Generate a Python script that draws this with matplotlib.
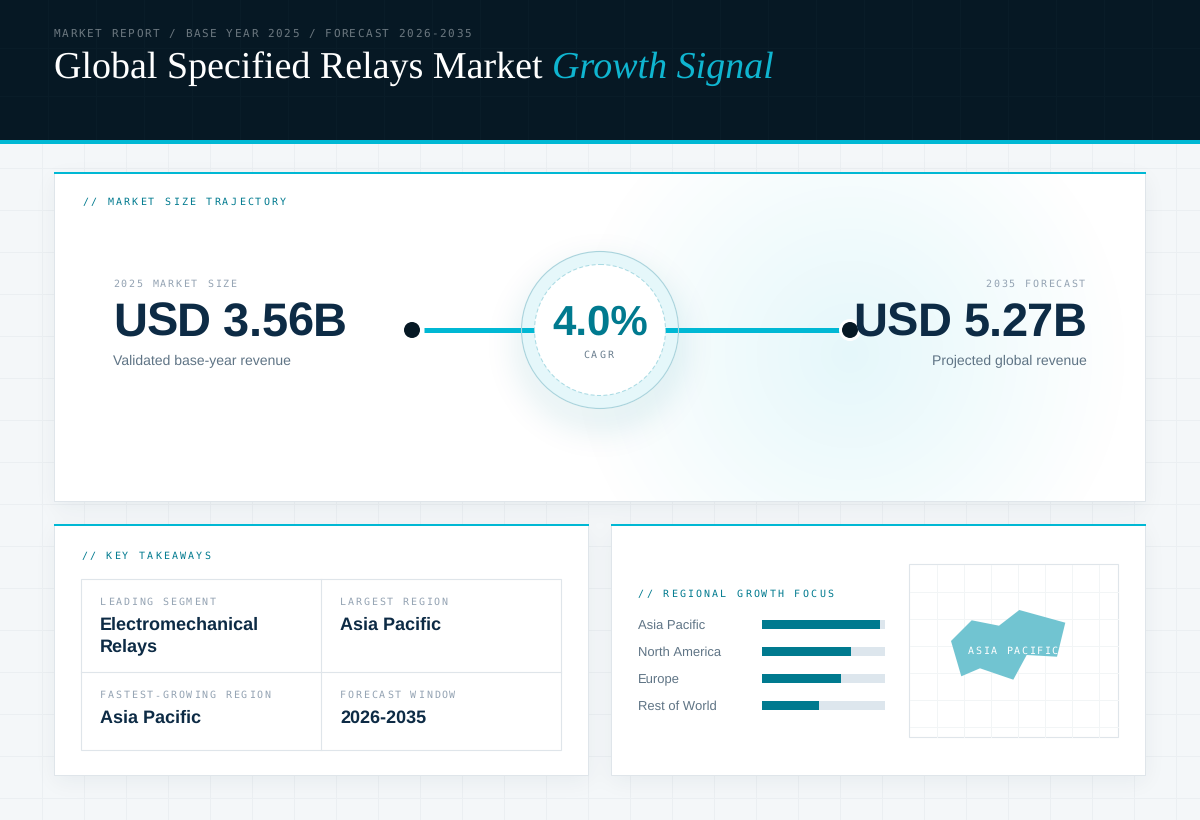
import numpy as np
import matplotlib
matplotlib.use("Agg")
import matplotlib.pyplot as plt
from matplotlib.patches import Rectangle, Circle, Polygon
from matplotlib.text import Text
from matplotlib.transforms import IdentityTransform, Bbox
from matplotlib.font_manager import findfont, get_font
from matplotlib.ft2font import LoadFlags
from math import erf

plt.rcParams["text.hinting"] = "no_hinting"
plt.rcParams["text.hinting_factor"] = 1

# ---- content ----
eyebrow = "MARKET REPORT / BASE YEAR 2025 / FORECAST 2026-2035"
title_main = "Global Specified Relays Market "
title_accent = "Growth Signal"
base_label, base_value, base_note = "2025 MARKET SIZE", "USD 3.56B", "Validated base-year revenue"
fc_label, fc_value, fc_note = "2035 FORECAST", "USD 5.27B", "Projected global revenue"
cagr_value, cagr_label = "4.0%", "CAGR"
takeaway_labels = ["LEADING SEGMENT", "LARGEST REGION", "FASTEST-GROWING REGION", "FORECAST WINDOW"]
takeaway_values = ["Electromechanical\nRelays", "Asia Pacific", "Asia Pacific", "2026-2035"]
regions = ["Asia Pacific", "North America", "Europe", "Rest of World"]
region_scores = [96, 72, 64, 46]
map_outline = [(971.7, 620.3), (999, 625.7), (1019.3, 610), (1065.3, 622.7), (1057, 656.7),
               (1026.7, 655), (1013.3, 679.7), (980, 668.3), (961.3, 676.3), (951, 641)]

# ---- palette ----
NAVY = "#061824"; CYAN = "#00b8d4"; TEAL = "#007a8f"; INK = "#0d2b45"
GREY = "#5f7485"; LABEL = "#94a3b3"; LINE = "#dfe5ea"; TRACK = "#dde6ed"; PAGE = "#f4f7f9"
MONO = "DejaVu Sans Mono"

W, H = 1200, 820
fig = plt.figure(figsize=(W / 100, (H + 0.01) / 100), dpi=100, facecolor=PAGE)
ax = fig.add_axes([0, 0, 1, 1])
ax.set_xlim(0, W); ax.set_ylim(H, 0); ax.axis("off")
px = 0.72


class Tracked(Text):
    """One text object drawn with CSS-like letter spacing."""
    def __init__(self, x, y, s, size_px, tracking, align="left", family=MONO, **kw):
        super().__init__(x, y, s, fontsize=size_px * px, family=family, va="baseline", ha="left", **kw)
        font = get_font(findfont(self.get_fontproperties()))
        font.set_size(size_px * px, fig.dpi)
        self._advs = []
        for ch in s:
            g = font.load_char(ord(ch), flags=LoadFlags.NO_HINTING)
            self._advs.append(g.linearHoriAdvance / 65536 + tracking)
        if align == "right":
            self.set_x(x - sum(self._advs))

    def get_window_extent(self, renderer=None, dpi=None):
        x, y = self.get_transform().transform(self.get_position())
        return Bbox([[x, y - 2], [x + sum(self._advs), y + self.get_fontsize() / px * 0.7]])

    def draw(self, renderer):
        x, y = self.get_transform().transform(self.get_position())
        for ch, adv in zip(self.get_text(), self._advs):
            if ch != " ":
                t = Text(x, y, ch, fontproperties=self.get_fontproperties(), color=self.get_color(),
                         alpha=self.get_alpha(), va="baseline", ha="left", transform=IdentityTransform())
                t.set_figure(self.get_figure())
                t.draw(renderer)
            x += adv


def tracked(x, y, s, size, tr, color, align="left", zorder=8, **kw):
    t = Tracked(x, y, s, size, tr, align=align, color=color, zorder=zorder, transform=ax.transData, **kw)
    ax.add_artist(t)
    return t


def serf(a):
    return np.vectorize(erf)(a)


def box_shadow(x0, y0, x1, y1, sigma, strength):
    xs = np.arange(W) + 0.5; ys = np.arange(H) + 0.5
    fx = 0.5 * (serf((xs - x0) / (sigma * 2 ** .5)) - serf((xs - x1) / (sigma * 2 ** .5)))
    fy = 0.5 * (serf((ys - y0) / (sigma * 2 ** .5)) - serf((ys - y1) / (sigma * 2 ** .5)))
    return np.outer(fy, fx) * strength


def rgba_layer(a, rgb):
    img = np.zeros((H, W, 4))
    img[..., 0], img[..., 1], img[..., 2] = rgb
    img[..., 3] = a
    return img


EXT = (0, W, H, 0)
# page grid
for g in range(42, W, 42):
    ax.axvline(g, color="#ebeff2", lw=0.72, zorder=0)
for g in range(168, H, 42):
    ax.axhline(g, color="#ebeff2", lw=0.72, zorder=0)

# shadows of the cards
shadow = sum(box_shadow(*b, 11, 0.06) for b in [(55, 180, 1145, 507), (55, 532, 588, 781), (612, 532, 1145, 781)])
ax.imshow(rgba_layer(shadow, (0.05, 0.17, 0.27)), extent=EXT, zorder=1, interpolation="nearest", aspect="auto")
ax.set_xlim(0, W); ax.set_ylim(H, 0)

# header
ax.add_patch(Rectangle((0, 0), W, 140, fc=NAVY, ec="none", zorder=2))
for g in range(48, W, 48):
    ax.plot([g, g], [0, 140], color="#091c28", lw=0.72, zorder=2.1)
for g in range(48, 140, 48):
    ax.plot([0, W], [g, g], color="#091c28", lw=0.72, zorder=2.1)
ax.add_patch(Rectangle((0, 140), W, 4, fc=CYAN, ec="none", zorder=2.2))
tracked(54, 37, eyebrow, 11, 1.58, "#6b777f")
t1 = ax.text(54, 78, title_main, family="Liberation Serif", fontsize=38 * px, color="white", va="baseline", zorder=8)
ax.text(552, 78, title_accent, family="Liberation Serif", style="italic", fontsize=38 * px, color="#0fb5d0",
        va="baseline", zorder=8)


def card(x0, y0, x1, y1):
    ax.add_patch(Rectangle((x0, y0), x1 - x0, y1 - y0, fc="white", ec=LINE, lw=0.72, zorder=3))
    ax.add_patch(Rectangle((x0, y0), x1 - x0 + 1, 2, fc=CYAN, ec="none", zorder=3.2))


card(54, 172, 1145, 501)
card(54, 524, 588, 775)
card(611, 524, 1145, 775)

# glow behind the forecast point, clipped to the card
xx, yy = np.meshgrid(np.arange(W) + .5, np.arange(H) + .5)
r = np.hypot(xx - 850, yy - 355)
glow = 0.105 * np.clip(1 - r / 285, 0, 1)
glow[(xx < 55) | (xx > 1145) | (yy < 174) | (yy > 501)] = 0
ax.imshow(rgba_layer(glow, (0, 0.72, 0.83)), extent=EXT, zorder=3.3, interpolation="nearest", aspect="auto")
# soft halo of the CAGR ring
rc = np.hypot(xx - 600, yy - 346)
halo = 0.075 * np.exp(-np.clip(rc - 70, 0, None) ** 2 / (2 * 17 ** 2))
ax.imshow(rgba_layer(halo, (0, 0.48, 0.56)), extent=EXT, zorder=3.4, interpolation="nearest", aspect="auto")
ax.set_xlim(0, W); ax.set_ylim(H, 0)

tracked(82.5, 205, "// MARKET SIZE TRAJECTORY", 10, 2.2, TEAL)

# trajectory
ax.add_patch(Circle((600, 330), 79, fc="white", ec="none", zorder=3.5))
ax.plot([424, 840], [330, 330], color=CYAN, lw=5 * px, solid_capstyle="butt", zorder=4)
ax.add_patch(Circle((600, 330), 78.5, fc=(0, 0.72, 0.83, 0.10), ec="#a9d3dc", lw=0.8, zorder=4.2))
ax.add_patch(Circle((600, 330), 65.5, fc="white", ec="#a8dae3", lw=0.72, ls=(0, (4, 2.4)), zorder=4.3))
ax.add_patch(Circle((412, 330), 8, fc=NAVY, ec="none", zorder=5))
ax.add_patch(Circle((850, 330), 9.5, fc=NAVY, ec="white", lw=3 * px, zorder=5))

ax.text(600, 335, cagr_value, family="Liberation Sans", weight="bold", fontsize=42 * px, color=TEAL, ha="center", va="baseline", zorder=8)
tracked(583, 358, cagr_label, 10, 2, "#6b7f8f")

tracked(113, 287, base_label, 10, 1.8, LABEL)
tracked(113, 336, base_value, 47, -0.5, INK, family="Liberation Sans", weight="bold")
ax.text(113, 365, base_note, family="Liberation Sans", fontsize=14 * px, color=GREY, va="baseline", zorder=8)
tracked(1087, 287, fc_label, 10, 1.8, LABEL, align="right")
tracked(1086.5, 336, fc_value, 47, -0.5, INK, align="right", family="Liberation Sans", weight="bold")
ax.text(1087, 365, fc_note, family="Liberation Sans", fontsize=14 * px, color=GREY, ha="right", va="baseline", zorder=8)

# takeaways
tracked(81, 559, "// KEY TAKEAWAYS", 10, 2.2, TEAL)
ax.add_patch(Rectangle((81, 579), 480, 171, fc="white", ec=LINE, lw=0.8, zorder=4))
ax.plot([321, 321], [579, 750], color=LINE, lw=0.8, zorder=4.1)
ax.plot([81, 561], [672, 672], color=LINE, lw=0.8, zorder=4.1)
cell_xy = [(100, 605), (340, 605), (100, 698), (340, 698)]
for (cx, cy), lab, val in zip(cell_xy, takeaway_labels, takeaway_values):
    tracked(cx, cy, lab, 10, 1.8, LABEL)
    for k, line in enumerate(val.split("\n")):
        ax.text(cx, cy + 25 + k * 21, line, family="Liberation Sans", weight="bold", fontsize=18 * px, color=INK,
                va="baseline", zorder=8)

# regional bars
tracked(638, 597, "// REGIONAL GROWTH FOCUS", 10, 2.2, TEAL)
bar_ax = fig.add_axes([762 / W, 1 - 719 / H, 123 / W, 108 / H], facecolor="none", zorder=5)
rows = np.arange(len(regions))
bar_ax.barh(rows, [100] * len(regions), height=1 / 3, color=TRACK)
bar_ax.barh(rows, region_scores, height=1 / 3, color=TEAL)
bar_ax.set_xlim(0, 100); bar_ax.set_ylim(len(regions) - 0.5, -0.5)
for s in bar_ax.spines.values():
    s.set_visible(False)
bar_ax.set_xticks([])
bar_ax.set_yticks(rows, regions)
bar_ax.tick_params(axis="y", length=0, pad=124 * px, labelsize=13 * px, labelcolor=GREY)
for lab in bar_ax.get_yticklabels():
    lab.set_family("Liberation Sans"); lab.set_ha("left")

# map
ax.add_patch(Rectangle((909, 564), 209, 173, fc="white", ec=LINE, lw=0.8, zorder=4))
for g in range(937, 1118, 27):
    ax.plot([g, g], [565, 737], color="#f2f5f6", lw=0.72, zorder=4.1)
for g in range(592, 737, 27):
    ax.plot([910, 1118], [g, g], color="#f2f5f6", lw=0.72, zorder=4.1)
ax.add_patch(Polygon(map_outline, closed=True, fc="#71c4d1", ec="none", zorder=4.2))
tracked(968, 654, "ASIA PACIFIC", 10, 1.6, "white")

fig.savefig("out.png", dpi=100, facecolor=PAGE)
